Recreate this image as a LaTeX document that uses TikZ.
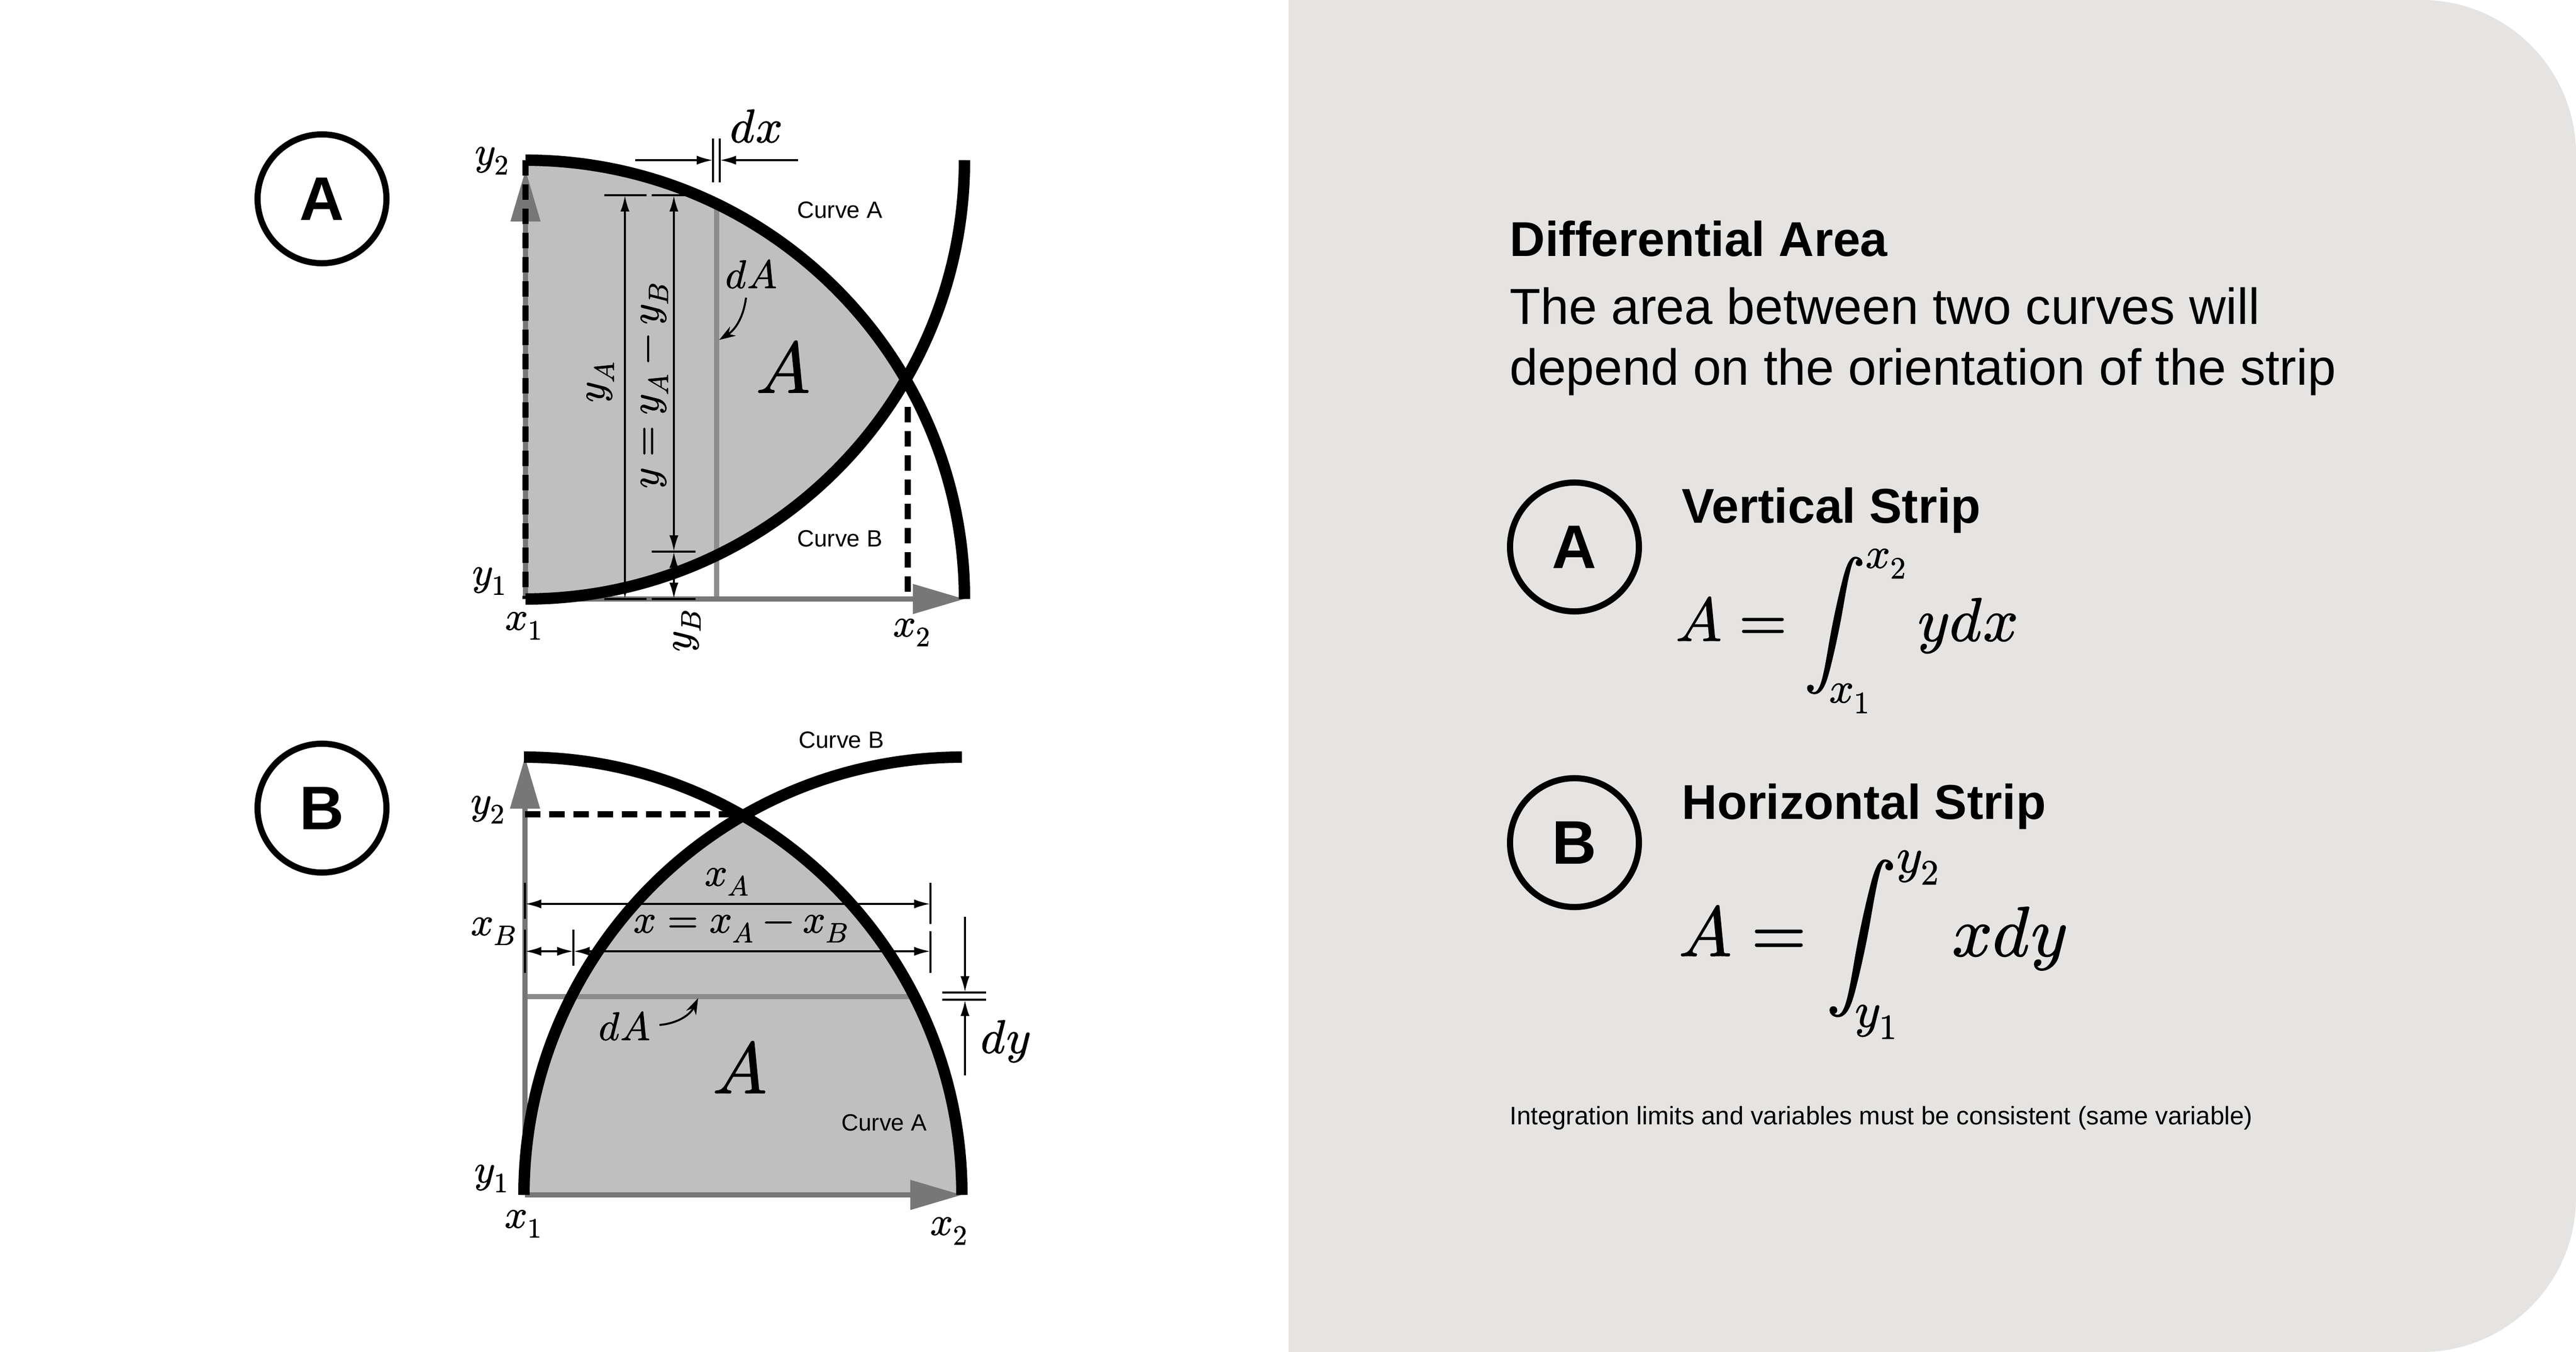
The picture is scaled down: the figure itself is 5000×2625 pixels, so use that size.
\documentclass[tikz,border=0pt]{standalone}
\usepackage{fontspec}
\setmainfont{Liberation Sans}
\usepackage{unicode-math}
\setmathfont[FakeBold=1.2]{Latin Modern Math}
\usetikzlibrary{arrows.meta}
\definecolor{panel}{HTML}{E5E4E2}
\definecolor{fillg}{HTML}{BFBFBF}
\definecolor{axg}{HTML}{777777}
\definecolor{stripg}{HTML}{8C8C8C}
\tikzset{
  curve/.style={line width=6.3pt},
  dim/.style={line width=1.1pt},
  dimarr/.style={dim,{Latex[length=9pt,width=5pt]}-{Latex[length=9pt,width=5pt]}},
  onearr/.style={dim,-{Latex[length=9pt,width=5pt]}},
  axis/.style={axg,line width=2.6pt,-{Triangle[length=1cm,width=0.56cm]}},
  dashv/.style={line width=3.4pt,dash pattern=on 0.3cm off 0.17cm},
  strip/.style={stripg,line width=2.8pt},
  lab/.style={font=\fontsize{22}{25}\selectfont},
  big/.style={font=\fontsize{40}{44}\selectfont},
  curvelab/.style={font=\fontsize{13}{15}\selectfont},
  circ/.style={circle,draw,line width=3.4pt,minimum size=2.5cm,inner sep=0pt,font=\fontsize{34}{36}\selectfont\bfseries},
}
\begin{document}
\begin{tikzpicture}[x=0.01cm,y=-0.01cm]
\useasboundingbox (0,0) rectangle (5000,2625);
\fill[white] (0,0) rectangle (5000,2625);
\fill[panel] (2501,0) -- (4700,0) arc[start angle=-90,end angle=0,radius=300] -- (5000,2325) arc[start angle=0,end angle=90,radius=300] -- (2501,2625) -- cycle;

% ---------- Diagram A ----------
\node[circ] (cA) at (625,386) {A};
\fill[fillg] (1020,311) arc[start angle=-90,end angle=-30,radius=852] arc[start angle=30,end angle=90,radius=852] -- cycle;
\draw[strip] (1391,396) -- (1391,1163);
\draw[axis] (1020,1163) -- (1020,330);
\draw[axis] (1020,1163) -- (1872,1163);
\draw[dashv] (1020,311) -- (1020,1163);
\draw[dashv] (1762,790) -- (1762,1163);
\draw[curve] (1020,311) arc[start angle=-90,end angle=0,radius=852];
\draw[curve] (1020,1163) arc[start angle=90,end angle=0,radius=852];
% dims
\draw[dim] (1173,379) -- (1255,379) (1265,379) -- (1350,379)
           (1173,1163) -- (1255,1163) (1265,1163) -- (1350,1163)
           (1265,1071) -- (1350,1071);
\draw[dimarr] (1213,379) -- (1213,1163);
\draw[dimarr] (1308,379) -- (1308,1071);
\draw[dimarr] (1308,1071) -- (1308,1163);
\draw[dim] (1384,269) -- (1384,354) (1397,269) -- (1397,354);
\draw[onearr] (1233,311) -- (1384,311);
\draw[onearr] (1549,311) -- (1397,311);
\node[lab,font=\fontsize{26}{28}\selectfont] (dxA) at (1468,245) {$dx$};
\node[lab,rotate=90] (yAl) at (1165,741) {$y_A$};
\node[lab,rotate=90] (yeq) at (1270,748) {$y=y_A-y_B$};
\node[lab,rotate=90] (yBl) at (1333,1224) {$y_B$};
\node[lab] (dAa) at (1458,532) {$dA$};
\draw[onearr,-{Stealth[length=9pt,width=6pt]}] (1448,578) to[bend left=25] (1396,660);
\node[big] (AA) at (1520,712) {$A$};
\node[curvelab] (cAa) at (1630,408) {Curve A};
\node[curvelab] (cBa) at (1630,1046) {Curve B};
\node[lab] (y2a) at (955,312) {$y_2$};
\node[lab] (y1a) at (950,1128) {$y_1$};
\node[lab] (x1a) at (1017,1215) {$x_1$};
\node[lab] (x2a) at (1770,1228) {$x_2$};

% ---------- Diagram B ----------
\node[circ] (cB) at (625,1569) {B};
\fill[fillg] (1017,2320) arc[start angle=180,end angle=240,radius=850] arc[start angle=-60,end angle=0,radius=850] -- cycle;
\draw[strip] (1019,1935) -- (1771,1935);
\draw[axis] (1019,2320) -- (1019,1470);
\draw[axis] (1019,2320) -- (1867,2320);
\draw[dashv] (1019,1581) -- (1442,1581);
\draw[curve] (1017,2320) arc[start angle=180,end angle=270,radius=850];
\draw[curve] (1017,1470) arc[start angle=-90,end angle=0,radius=850];
\draw[dim] (1019,1714) -- (1019,1784) (1019,1805) -- (1019,1889)
           (1806,1714) -- (1806,1794) (1806,1808) -- (1806,1889)
           (1113,1805) -- (1113,1875);
\draw[dimarr] (1019,1755) -- (1806,1755);
\draw[dimarr] (1113,1847) -- (1806,1847);
\draw[dimarr] (1019,1847) -- (1113,1847);
\draw[dim] (1829,1927) -- (1914,1927) (1829,1941) -- (1914,1941);
\draw[onearr] (1873,1780) -- (1873,1927);
\draw[onearr] (1873,2088) -- (1873,1941);
\node[lab] (xAl) at (1411,1712) {$x_A$};
\node[lab] (xeq) at (1438,1803) {$x=x_A-x_B$};
\node[lab] (xBl) at (958,1808) {$x_B$};
\node[lab] (dAb) at (1212,1992) {$dA$};
\draw[onearr,-{Stealth[length=9pt,width=6pt]}] (1280,1990) to[bend right=30] (1355,1938);
\node[big] (AB) at (1436,2072) {$A$};
\node[curvelab] (cAb) at (1716,2180) {Curve A};
\node[curvelab] (cBb) at (1633,1437) {Curve B};
\node[lab,font=\fontsize{26}{28}\selectfont] (dyl) at (1952,2022) {$dy$};
\node[lab] (y2b) at (947,1572) {$y_2$};
\node[lab] (y1b) at (954,2288) {$y_1$};
\node[lab] (x1b) at (1016,2376) {$x_1$};
\node[lab] (x2b) at (1842,2390) {$x_2$};

% ---------- Right panel ----------
\node[anchor=base west,font=\fontsize{27}{30}\selectfont\bfseries] (title) at (2918,498) {Differential Area};
\node[anchor=base west,font=\fontsize{28}{30}\selectfont,align=left] (body) at (2918,630) {The area between two curves will};
\node[anchor=base west,font=\fontsize{28}{30}\selectfont,align=left] (body2) at (2918,748) {depend on the orientation of the strip};
\node[circ] (cA2) at (3056,1062) {A};
\node[anchor=base west,font=\fontsize{27}{30}\selectfont\bfseries] (vs) at (3252,1015) {Vertical Strip};
\node[anchor=west,font=\fontsize{34}{38}\selectfont] (fA) at (3240,1225) {$A=\displaystyle\int_{x_1}^{x_2} ydx$};
\node[circ] (cB2) at (3056,1636) {B};
\node[anchor=base west,font=\fontsize{27}{30}\selectfont\bfseries] (hs) at (3252,1590) {Horizontal Strip};
\node[anchor=west,font=\fontsize{39}{43}\selectfont] (fB) at (3246,1834) {$A=\displaystyle\int_{y_1}^{y_2} xdy$};
\node[anchor=base west,font=\fontsize{14}{16}\selectfont] (note) at (2918,2183) {Integration limits and variables must be consistent (same variable)};
\end{tikzpicture}
\end{document}
